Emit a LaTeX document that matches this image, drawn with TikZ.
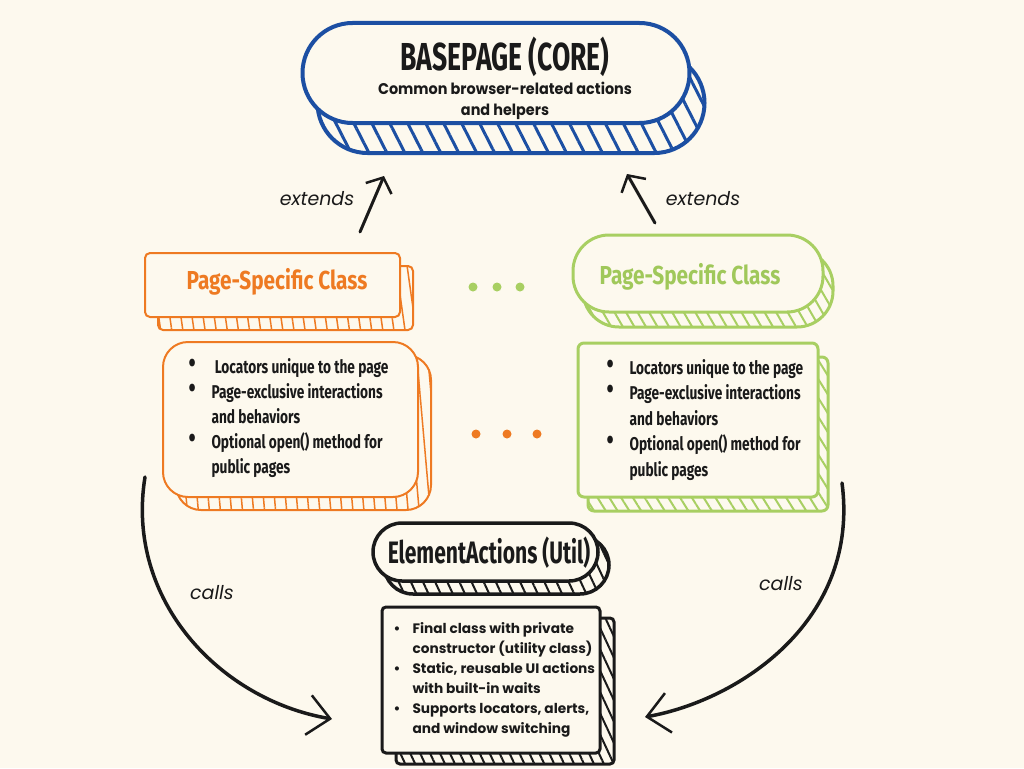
\documentclass[tikz,border=0pt]{standalone}
\usepackage{fontspec}
\setmainfont{Poppins}
\newfontfamily\hand[FakeStretch=0.8]{Fira Sans}
\newfontfamily\handL[FakeStretch=0.74]{Fira Sans}
\newfontfamily\handE[FakeStretch=0.68]{Fira Sans}
\newfontfamily\handT[FakeStretch=0.68]{Fira Sans}
\newfontfamily\pop{Poppins}
\newfontfamily\popN[FakeStretch=0.93]{Poppins}
\usetikzlibrary{arrows.meta,patterns.meta,backgrounds}
\definecolor{bgc}{HTML}{FDF9EE}
\definecolor{cblue}{HTML}{1C4FA3}
\definecolor{corange}{HTML}{EE7A22}
\definecolor{cgreen}{HTML}{A8CF62}
\definecolor{cgtext}{HTML}{A0C85A}
\definecolor{cink}{HTML}{1A1A1A}
\newcommand{\bul}{\raisebox{0.05em}{\scalebox{1.5}{\textbullet}}}
\newcommand{\extrude}[6]{%
  \fill[bgc,#5] ([shift={(#2,#3)}]#1.north west) rectangle ([shift={(#2,#3)}]#1.south east);
  \fill[pattern={Lines[#6]},pattern color=#4,#5] ([shift={(#2,#3)}]#1.north west) rectangle ([shift={(#2,#3)}]#1.south east);
  \draw[draw=#4,#5] ([shift={(#2,#3)}]#1.north west) rectangle ([shift={(#2,#3)}]#1.south east);
}
\tikzset{
  frontshape/.style n args={3}{draw=#1, line width=#2, rounded corners=#3, fill=bgc, inner sep=0pt, outer sep=0pt},
  dot/.style={circle, fill=#1, minimum size=9pt, inner sep=0pt},
  extarrow/.style={draw=cink, line width=3pt, line cap=round, -{Straight Barb[length=12pt,width=28pt,line width=2.5pt]}},
  callarrow/.style={draw=cink, line width=3.5pt, line cap=round, -{Straight Barb[length=22pt,width=40pt,line width=2.5pt]}},
  lbl/.style={font=\pop\itshape\fontsize{19}{19}\selectfont, text=cink, inner sep=0pt},
}
\begin{document}
\begin{tikzpicture}[x=1pt,y=-1pt]
\useasboundingbox (0,0) rectangle (1024,768);

% front shapes
\node[frontshape={cblue}{4pt}{50pt}, minimum width=387pt, minimum height=100pt] (base) at (496,73) {};
\node[frontshape={corange}{2pt}{5pt}, minimum width=255pt, minimum height=64pt] (opage) at (272.5,285) {};
\node[frontshape={cgreen}{3pt}{36pt}, minimum width=250pt, minimum height=77pt] (gpage) at (698,273.5) {};
\node[frontshape={corange}{2pt}{25pt}, minimum width=255pt, minimum height=155pt] (obox) at (290.5,419.5) {};
\node[frontshape={cgreen}{3pt}{6pt}, minimum width=240pt, minimum height=154pt] (gbox) at (698,420) {};
\node[frontshape={cink}{3.5pt}{29pt}, minimum width=225pt, minimum height=58pt] (elem) at (485.5,552) {};
\node[frontshape={cink}{3pt}{4pt}, minimum width=218pt, minimum height=146pt] (ubox) at (491,680) {};

\begin{scope}[on background layer]
  \fill[bgc] (0,0) rectangle (1024,768);
  \extrude{base}{15}{30}{cblue}{line width=4pt,rounded corners=50pt}{angle=-63,distance=16pt,line width=3pt}
  \extrude{opage}{13}{13}{corange}{line width=2pt,rounded corners=5pt}{angle=-82,distance=11pt,line width=1.5pt}
  \extrude{gpage}{10}{15}{cgreen}{line width=3pt,rounded corners=36pt}{angle=-60,distance=10pt,line width=2pt}
  \extrude{obox}{13}{13}{corange}{line width=2pt,rounded corners=25pt}{angle=-85,distance=11pt,line width=1.5pt}
  \extrude{gbox}{10}{14}{cgreen}{line width=3pt,rounded corners=6pt}{angle=-58,distance=10pt,line width=2pt}
  \extrude{elem}{11}{13}{cink}{line width=3.5pt,rounded corners=29pt}{angle=-65,distance=11pt,line width=2pt}
  \extrude{ubox}{14}{11}{cink}{line width=3pt,rounded corners=4pt}{angle=-65,distance=9pt,line width=2pt}
\end{scope}

% texts
\node[font=\handT\bfseries\fontsize{39}{39}\selectfont, text=cink] (basetitle) at (505,57) {BASEPAGE (CORE)};
\node[font=\popN\bfseries\fontsize{15.5}{21}\selectfont, text=cink, align=center] (basesub) at (505,100.5) {Common browser-related actions\\and helpers};
\node[font=\hand\bfseries\fontsize{26}{26}\selectfont, text=corange] (otitle) at (277,282) {Page-Specific Class};
\node[font=\hand\bfseries\fontsize{26}{26}\selectfont, text=cgtext] (gtitle) at (690,277) {Page-Specific Class};
\node[font=\handE\bfseries\fontsize{31}{31}\selectfont, text=cink] (etitle) at (489,553) {ElementActions (Util)};

\node[anchor=base west, font=\handL\bfseries\fontsize{18.5}{25}\selectfont, text=cink] (olist) at (185,373) {%
\begin{tabular}[t]{@{}p{23pt}@{}l@{}}
\bul & \ Locators unique to the page\\
\bul & Page-exclusive interactions\\
 & and behaviors\\
\bul & Optional open() method for\\
 & public pages
\end{tabular}};
\node[anchor=base west, font=\handL\bfseries\fontsize{18.5}{25.5}\selectfont, text=cink] (glist) at (603,374) {%
\begin{tabular}[t]{@{}p{23pt}@{}l@{}}
\bul & Locators unique to the page\\
\bul & Page-exclusive interactions\\
 & and behaviors\\
\bul & Optional open() method for\\
 & public pages
\end{tabular}};
\node[anchor=base west, font=\pop\bfseries\fontsize{13.7}{20}\selectfont, text=cink] (ulist) at (390,633) {%
\begin{tabular}[t]{@{}p{19pt}@{}l@{}}
\textbullet & Final class with private\\
 & constructor (utility class)\\
\textbullet & Static, reusable UI actions\\
 & with built-in waits\\
\textbullet & Supports locators, alerts,\\
 & and window switching
\end{tabular}};

% dots
\node[dot=cgreen] (g1) at (473,287) {};
\node[dot=cgreen] (g2) at (497,287) {};
\node[dot=cgreen] (g3) at (520,287) {};
\node[dot=corange] (o1) at (476,434) {};
\node[dot=corange] (o2) at (507,434) {};
\node[dot=corange] (o3) at (537,434) {};

% connectors
\coordinate (e1s) at (360,232);
\coordinate (e1t) at (384,176);
\coordinate (e2s) at (655,223);
\coordinate (e2t) at (627,174);
\draw[extarrow] (e1s) -- (e1t);
\draw[extarrow] (e2s) -- (e2t);
\node[lbl] (ext1) at (317,199) {extends};
\node[lbl] (ext2) at (703,199) {extends};

\coordinate (c1s) at (145,477);
\coordinate (c1t) at (332,719);
\coordinate (c2s) at (842,483);
\coordinate (c2t) at (645,717);
\draw[callarrow] (c1s) .. controls (125,600) and (220,700) .. (c1t);
\draw[callarrow] (c2s) .. controls (860,620) and (740,700) .. (c2t);
\node[lbl] (call1) at (212,593) {calls};
\node[lbl] (call2) at (781,584) {calls};
\end{tikzpicture}
\end{document}
